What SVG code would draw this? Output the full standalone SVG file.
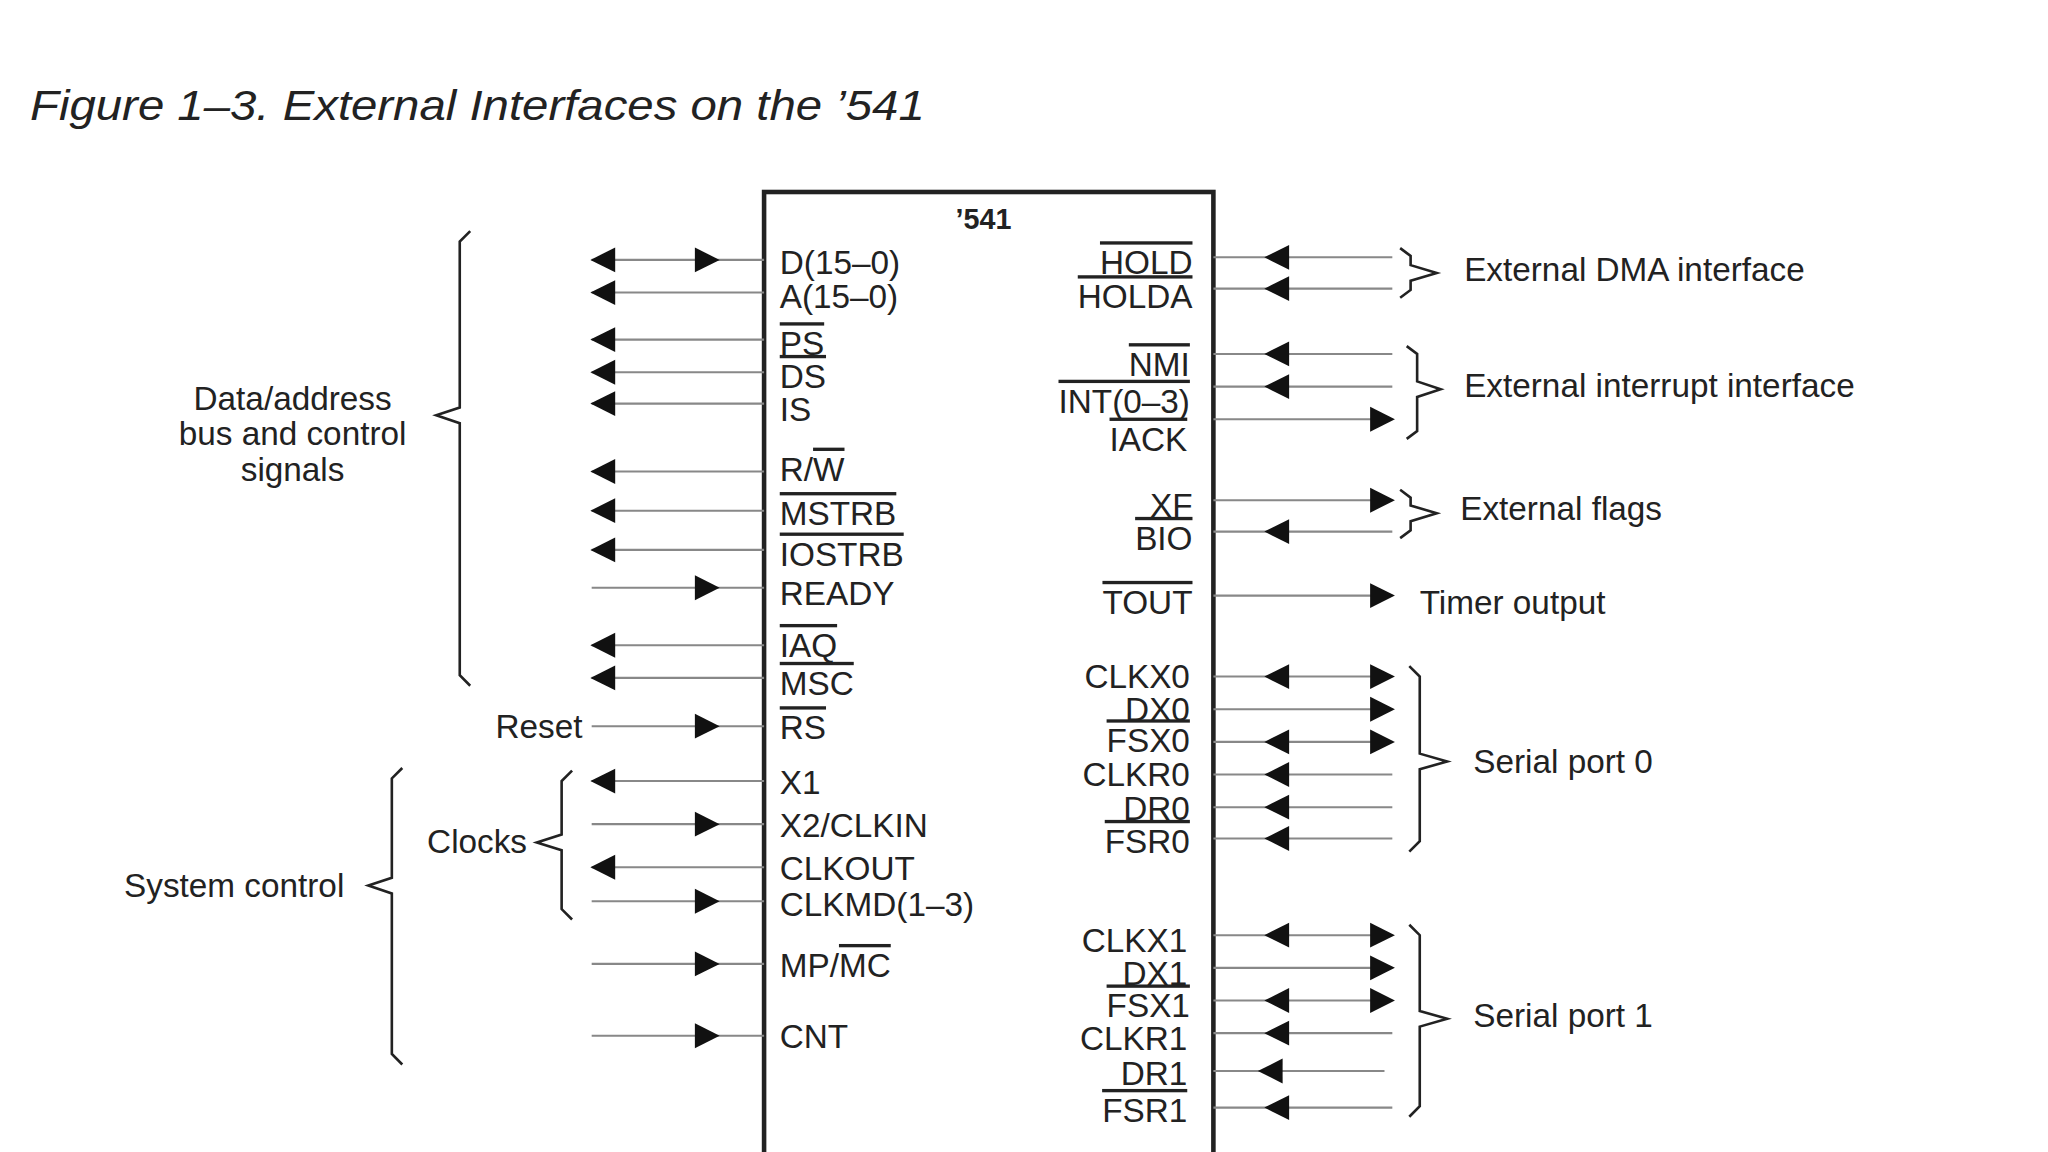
<svg xmlns="http://www.w3.org/2000/svg" xmlns:xlink="http://www.w3.org/1999/xlink" width="2048" height="1152" viewBox="0 0 2048 1152">
<style>
text{font-family:"Liberation Sans",Arial,sans-serif;fill:#222}
.s{font-size:25.5px}
.r{text-anchor:end}
.g{font-size:25.5px}
.ov{text-decoration:overline}
.ln{stroke:#888;stroke-width:1.6;fill:none}
.br{stroke:#222;stroke-width:2;fill:none}
.ah{fill:#111}
</style>
<defs>
<path id="al" class="ah" d="M0,0 L19,-9.5 L19,9.5Z"/>
<path id="ar" class="ah" d="M0,0 L-19,-9.5 L-19,9.5Z"/>
</defs>
<rect width="2048" height="1152" fill="#fff"/>
<g transform="scale(1.306122)">
<text x="23" y="92" font-size="33" font-style="italic" textLength="685" lengthAdjust="spacingAndGlyphs">Figure 1–3. External Interfaces on the ’541</text>
<g id="chip">
<rect x="585" y="147" width="344" height="760" fill="none" stroke="#222" stroke-width="3.5"/>
<text x="753" y="175" font-size="22" font-weight="bold" text-anchor="middle">’541</text>
</g>
<g id="pins-left" class="s">
<text x="597" y="210">D(15–0)</text>
<text x="597" y="236">A(15–0)</text>
<text x="597" y="272" class="ov">PS</text>
<text x="597" y="297" class="ov">DS</text>
<text x="597" y="322">IS</text>
<text x="597" y="368">R/<tspan class="ov">W</tspan></text>
<text x="597" y="402" class="ov">MSTRB</text>
<text x="597" y="433" class="ov">IOSTRB</text>
<text x="597" y="463">READY</text>
<text x="597" y="503" class="ov">IAQ</text>
<text x="597" y="532" class="ov">MSC</text>
<text x="597" y="566" class="ov">RS</text>
<text x="597" y="608">X1</text>
<text x="597" y="641">X2/CLKIN</text>
<text x="597" y="674">CLKOUT</text>
<text x="597" y="701">CLKMD(1–3)</text>
<text x="597" y="748">MP/<tspan class="ov">MC</tspan></text>
<text x="597" y="802">CNT</text>
</g>
<g id="pins-right" class="s r">
<text x="913" y="210" class="r ov">HOLD</text>
<text x="913" y="236" class="r ov">HOLDA</text>
<text x="911" y="288" class="r ov">NMI</text>
<text x="911" y="316" class="r ov">INT(0–3)</text>
<text x="909" y="345" class="r ov">IACK</text>
<text x="913" y="396" class="r">XF</text>
<text x="913" y="421" class="r ov">BIO</text>
<text x="913" y="470" class="r ov">TOUT</text>
<text x="911" y="527" class="r">CLKX0</text>
<text x="911" y="552" class="r">DX0</text>
<text x="911" y="576" class="r ov">FSX0</text>
<text x="911" y="602" class="r">CLKR0</text>
<text x="911" y="628" class="r">DR0</text>
<text x="911" y="653" class="r ov">FSR0</text>
<text x="909" y="729" class="r">CLKX1</text>
<text x="909" y="754" class="r">DX1</text>
<text x="911" y="779" class="r ov">FSX1</text>
<text x="909" y="804" class="r">CLKR1</text>
<text x="909" y="831" class="r">DR1</text>
<text x="909" y="859" class="r ov">FSR1</text>
</g>
<g id="connectors">
<g class="ln">
<path d="M453 199H585M453 224H585M453 260H585M453 285H585M453 309H585M453 361H585M453 391H585M453 421H585M453 450H585M453 494H585M453 519H585M453 556H585M453 598H585M453 631H585M453 664H585M453 690H585M453 738H585M453 793H585"/>
<path d="M929 197H1066M929 221H1066M929 271H1066M929 296H1066M929 321H1066M929 383H1066M929 407H1066M929 456H1066M929 518H1066M929 543H1066M929 568H1066M929 593H1066M929 618H1066M929 642H1066M929 716H1066M929 741H1066M929 766H1066M929 791H1066M929 820H1060M929 848H1066"/>
</g>
<use href="#al" x="452" y="199"/><use href="#ar" x="551" y="199"/>
<use href="#al" x="452" y="224"/>
<use href="#al" x="452" y="260"/>
<use href="#al" x="452" y="285"/>
<use href="#al" x="452" y="309"/>
<use href="#al" x="452" y="361"/>
<use href="#al" x="452" y="391"/>
<use href="#al" x="452" y="421"/>
<use href="#ar" x="551" y="450"/>
<use href="#al" x="452" y="494"/>
<use href="#al" x="452" y="519"/>
<use href="#ar" x="551" y="556"/>
<use href="#al" x="452" y="598"/>
<use href="#ar" x="551" y="631"/>
<use href="#al" x="452" y="664"/>
<use href="#ar" x="551" y="690"/>
<use href="#ar" x="551" y="738"/>
<use href="#ar" x="551" y="793"/>
<use href="#al" x="968" y="197"/>
<use href="#al" x="968" y="221"/>
<use href="#al" x="968" y="271"/>
<use href="#al" x="968" y="296"/>
<use href="#ar" x="1068" y="321"/>
<use href="#ar" x="1068" y="383"/>
<use href="#al" x="968" y="407"/>
<use href="#ar" x="1068" y="456"/>
<use href="#al" x="968" y="518"/><use href="#ar" x="1068" y="518"/>
<use href="#ar" x="1068" y="543"/>
<use href="#al" x="968" y="568"/><use href="#ar" x="1068" y="568"/>
<use href="#al" x="968" y="593"/>
<use href="#al" x="968" y="618"/>
<use href="#al" x="968" y="642"/>
<use href="#al" x="968" y="716"/><use href="#ar" x="1068" y="716"/>
<use href="#ar" x="1068" y="741"/>
<use href="#al" x="968" y="766"/><use href="#ar" x="1068" y="766"/>
<use href="#al" x="968" y="791"/>
<use href="#al" x="963" y="820"/>
<use href="#al" x="968" y="848"/>
</g>
<g id="braces" class="br">
<path d="M360 177L352 185V312L334 318L352 324V517L360 525"/>
<path d="M438 590L430 598V639L411 645L430 651V696L438 704"/>
<path d="M308 588L300 596V672L282 678L300 684V807L308 815"/>
<path d="M1072 190L1080 196V203L1100 209L1080 215V222L1072 228"/>
<path d="M1077 265L1085 271V292L1103 298L1085 304V330L1077 336"/>
<path d="M1072 375L1080 381V387L1100 393L1080 399V406L1072 412"/>
<path d="M1079 510L1087 518V577L1108 583L1087 589V644L1079 652"/>
<path d="M1079 708L1087 716V774L1108 780L1087 786V847L1079 855"/>
</g>
<g id="group-labels" class="g">
<text x="224" y="314" text-anchor="middle">Data/address</text>
<text x="224" y="341" text-anchor="middle">bus and control</text>
<text x="224" y="368" text-anchor="middle">signals</text>
<text x="446" y="565" text-anchor="end">Reset</text>
<text x="327" y="653">Clocks</text>
<text x="95" y="687">System control</text>
<text x="1121" y="215">External DMA interface</text>
<text x="1121" y="304">External interrupt interface</text>
<text x="1118" y="398">External flags</text>
<text x="1087" y="470">Timer output</text>
<text x="1128" y="592">Serial port 0</text>
<text x="1128" y="786">Serial port 1</text>
</g>
</g>
</svg>
